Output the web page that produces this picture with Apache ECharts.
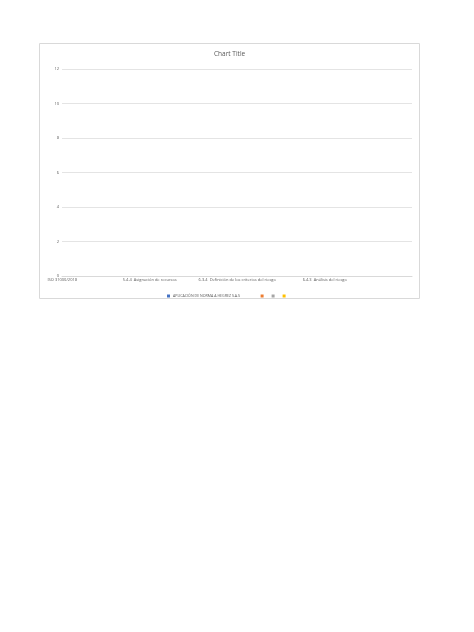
<!DOCTYPE html>
<html><head><meta charset="utf-8">
<script src="https://cdn.jsdelivr.net/npm/echarts@6/dist/echarts.min.js"></script>
<style>html,body{margin:0;padding:0;background:#fff}#c{width:474px;height:632px}</style>
</head><body><div id="c"></div>
<script>
const categories = ['ISO 31000/2018', '5.4.4  Asignación de recursos', '6.3.4  Definición de los criterios del riesgo', '6.4.3  Análisis del riesgo'];
const seriesNames = ['APLICACIÓN DE NORMA A HEGREZ S.A.S', ' ', '  ', '   '];
const seriesColors = ['#4472C4', '#ED7D31', '#A5A5A5', '#FFC000'];
const values1 = [0, 0, 0, 0];
const values2 = [0, 0, 0, 0];
const values3 = [0, 0, 0, 0];
const values4 = [0, 0, 0, 0];
const yTicks = { min: 0, max: 12, interval: 2 };

const allValues = [values1, values2, values3, values4];
const chart = echarts.init(document.getElementById('c'));
const font = 'Open Sans, Liberation Sans, sans-serif';
chart.setOption({
  animation: false,
  graphic: [{ type: 'rect', shape: { x: 39.5, y: 43.5, width: 380, height: 255 }, style: { fill: 'none', stroke: '#d9d9d9', lineWidth: 1 }, silent: true }],
  title: { text: 'Chart Title', left: 209, top: 46, textStyle: { fontFamily: font, fontSize: 6.5, fontWeight: 'normal', color: '#595959' } },
  legend: {
    bottom: 632 - 303, left: 162, itemWidth: 3, itemHeight: 3, itemGap: 8,
    icon: 'rect', data: seriesNames,
    formatter: n => n.trim() ? n + '\u2003\u2003\u2003\u2002' : '',
    textStyle: { fontFamily: font, fontSize: 3.6, color: '#595959', padding: [0, 0, 0, -2] }
  },
  grid: { left: 62, right: 474 - 412, top: 69, bottom: 632 - 276, containLabel: false },
  xAxis: {
    type: 'category', data: categories, boundaryGap: true,
    axisLine: { lineStyle: { color: '#d9d9d9' } },
    axisTick: { show: false },
    axisLabel: { interval: 0, fontFamily: font, fontSize: 4, color: '#595959', margin: 2,
      formatter: v => '{a|' + v + '}',
      rich: { a: { fontFamily: font, fontSize: 4, color: '#595959', padding: [0, 87, 0, 0] } } }
  },
  yAxis: {
    type: 'value', min: yTicks.min, max: yTicks.max, interval: yTicks.interval,
    axisLine: { show: false }, axisTick: { show: false },
    axisLabel: { fontFamily: font, fontSize: 4, color: '#595959', margin: 3 },
    splitLine: { lineStyle: { color: '#d9d9d9', width: 0.7 } }
  },
  series: seriesNames.map((n, i) => ({ name: n, type: 'bar', data: allValues[i], itemStyle: { color: seriesColors[i] } }))
});
</script></body></html>
